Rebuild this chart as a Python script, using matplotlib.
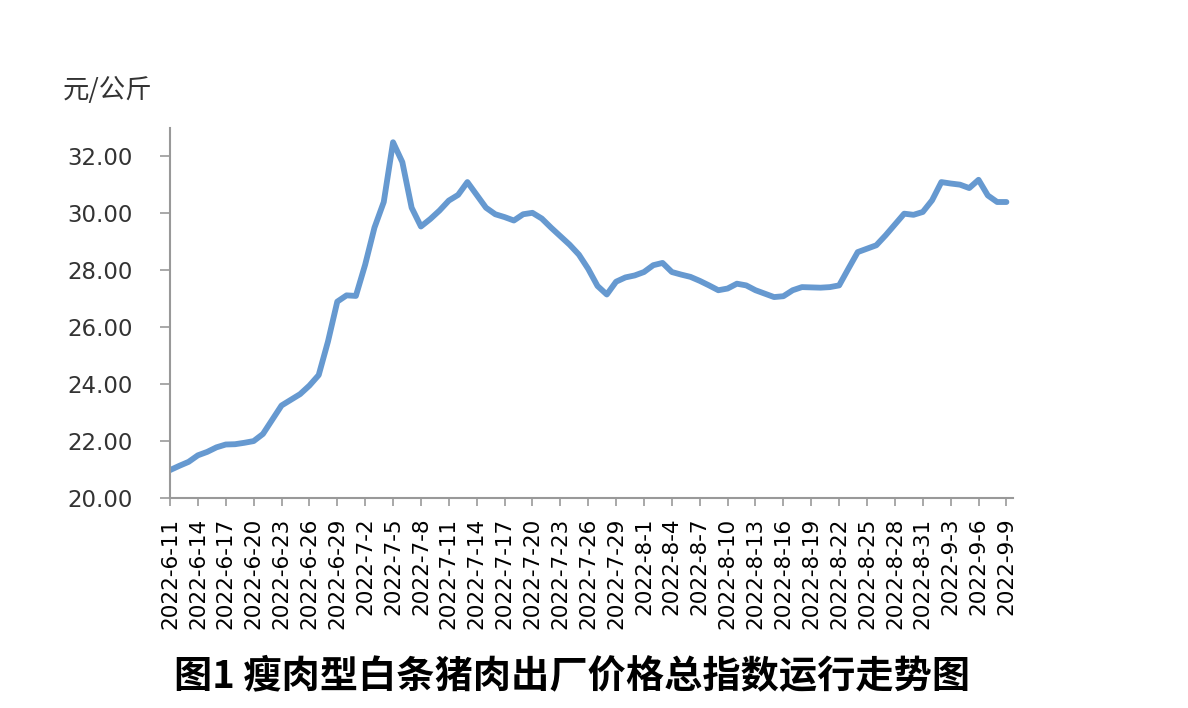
import matplotlib
matplotlib.use("Agg")
import matplotlib.pyplot as plt
import matplotlib.transforms as mtransforms
import pandas as pd

# daily index values, 2022-6-11 .. 2022-9-9 (yuan/kg)
dates = pd.date_range("2022-06-11", "2022-09-09", freq="D")
values = [
    20.98, 21.13, 21.27, 21.50, 21.62, 21.78, 21.88, 21.89, 21.94, 22.00,
    22.25, 22.75, 23.25, 23.45, 23.65, 23.95, 24.32, 25.50, 26.90, 27.12,
    27.10, 28.20, 29.50, 30.40, 32.50, 31.80, 30.20, 29.54, 29.80, 30.10,
    30.45, 30.65, 31.10, 30.65, 30.20, 29.97, 29.87, 29.75, 29.97, 30.02,
    29.82, 29.50, 29.20, 28.90, 28.55, 28.05, 27.45, 27.15, 27.60, 27.75,
    27.82, 27.94, 28.18, 28.26, 27.94, 27.85, 27.77, 27.63, 27.47, 27.30,
    27.36, 27.53, 27.47, 27.30, 27.18, 27.06, 27.09, 27.30, 27.41, 27.40,
    27.39, 27.41, 27.47, 28.06, 28.64, 28.76, 28.88, 29.23, 29.61, 29.99,
    29.95, 30.05, 30.46, 31.10, 31.05, 31.01, 30.89, 31.18, 30.63, 30.40,
    30.40,
]
tick_dates = dates[::3]
tick_labels = [f"{d.year}-{d.month}-{d.day}" for d in tick_dates]
y_ticks = [20, 22, 24, 26, 28, 30, 32]

fig = plt.figure(figsize=(11.88, 7.08), dpi=100)
ax = fig.add_axes([0.1431, 0.2966, 0.7096, 0.5226])

ax.plot(dates, values, color="#6699D0", lw=4.2, solid_capstyle="round",
        solid_joinstyle="round")

ax.set_ylim(20, 33)
ax.set_yticks(y_ticks)
ax.set_yticklabels([f"{v:.2f}" for v in y_ticks], fontsize=16.5, color="#333333")
ax.set_xlim(dates[0], dates[-1] + pd.Timedelta(hours=17))
ax.set_xticks(tick_dates)
ax.set_xticklabels(tick_labels, rotation=90, fontsize=15.5, color="black")

offset = mtransforms.ScaledTranslation(6 / 100, 0, fig.dpi_scale_trans)
for lab in ax.get_xticklabels():
    lab.set_transform(lab.get_transform() + offset)

for s in ["top", "right"]:
    ax.spines[s].set_visible(False)
for s in ["left", "bottom"]:
    ax.spines[s].set_color("#999999")
    ax.spines[s].set_linewidth(1.5)
ax.tick_params(axis="y", length=7, width=1.2, color="#999999", pad=20)
ax.tick_params(axis="x", length=6, width=1.2, color="#999999", pad=8)

fig.text(63 / 1188, 1 - 90 / 708, "元/公斤", fontsize=19, color="#333333",
         va="center", ha="left", family=["Noto Sans CJK SC", "DejaVu Sans"])
fig.text(572 / 1188, 1 - 677 / 708, "图1 瘦肉型白条猪肉出厂价格总指数运行走势图",
         fontsize=27.5, fontweight="black", ha="center", va="center",
         family=["Noto Sans CJK SC", "DejaVu Sans"])

fig.savefig("out.png", dpi=100)
